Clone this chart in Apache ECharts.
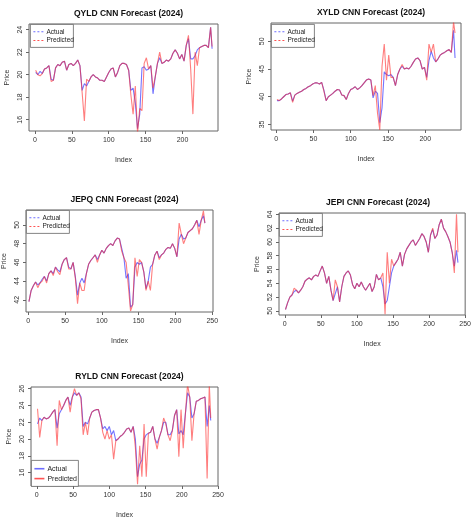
<!DOCTYPE html>
<html><head><meta charset="utf-8">
<script src="https://cdn.jsdelivr.net/npm/echarts@6/dist/echarts.min.js"></script>
<style>html,body{margin:0;background:#fff}#c{width:474px;height:523px}</style>
</head><body><div id="c"></div>
<script>
const idx=[1,4,7,10,13,16,19,22,25,28, 31,34,37,40,43,46,49,52,55,58, 61,64,67,70,73,76,79,82,85,88, 91,94,97,100,103,106,109,112,115,118, 121,124,127,130,133,136,139,142,145,148, 151,154,157,160,163,166,169,172,175,178, 181,184,187,190,193,196,199,202,205,208, 211,214,217,220,223,226,229,232,235,238, 240];
const titles=["QYLD CNN Forecast (2024)","XYLD CNN Forecast (2024)","JEPQ CNN Forecast (2024)","JEPI CNN Forecast (2024)","RYLD CNN Forecast (2024)"];
const qyldA=[20.2,20.0,20.3,20.1,20.5,20.6,20.8,19.6,19.5,20.6, 20.9,20.8,21.1,21.2,20.4,20.9,21.0,20.8,21.0,21.3, 20.8,18.6,19.2,19.0,19.4,19.8,20.0,19.8,19.7,19.5, 19.5,19.4,19.8,20.2,20.5,20.6,19.8,20.2,20.8,21.0, 21.0,20.9,20.4,18.6,18.8,17.5,15.2,16.5,20.6,20.7, 20.4,20.5,20.8,18.3,19.8,21.0,21.5,21.0,21.1,21.3, 21.2,21.4,21.9,22.2,21.9,21.4,21.8,21.2,22.6,23.2, 21.4,21.4,21.7,22.2,22.4,22.5,22.6,22.6,22.4,24.2, 22.3];
const qyldP=[20.4,20.0,19.9,20.1,20.5,20.6,20.8,19.4,19.5,20.6, 20.9,20.8,21.1,21.2,20.4,20.9,21.0,20.8,21.0,21.3, 20.8,18.4,15.9,19.6,19.4,19.8,20.0,19.8,19.7,19.5, 19.5,19.4,19.8,20.2,20.5,20.6,19.8,20.2,20.8,21.0, 21.0,20.9,20.4,18.2,16.5,19.0,14.8,17.0,16.8,21.0, 21.5,20.5,20.8,18.8,19.8,21.0,22.0,21.0,21.1,21.3, 21.2,21.4,21.9,22.2,21.9,21.4,21.8,21.2,22.6,23.5, 20.5,16.5,22.0,20.8,22.4,22.5,22.6,22.6,22.4,24.2, 22.5];
const xyldA=[39.3,39.3,39.6,40.0,40.4,40.5,40.7,39.2,40.3,40.6, 40.8,41.0,41.3,41.5,41.8,42.0,42.3,42.5,42.5,42.3, 42.6,41.2,39.3,40.0,40.3,40.6,41.0,41.3,41.2,40.3, 40.2,39.5,40.6,41.3,41.5,41.8,41.3,41.6,42.0,42.5, 43.0,43.2,43.0,39.8,41.0,40.6,35.3,38.0,44.5,44.0, 43.8,44.0,43.5,42.0,44.0,45.0,45.5,45.0,45.2,45.0, 45.5,46.2,46.8,47.0,46.5,45.0,45.3,43.5,46.5,48.2, 47.0,46.3,46.8,47.5,47.8,48.0,48.3,48.5,48.0,52.0, 47.0];
const xyldP=[39.5,39.3,39.6,40.0,40.4,40.5,40.7,39.0,40.3,40.6, 40.8,41.0,41.3,41.5,41.8,42.0,42.3,42.5,42.5,42.3, 42.6,41.0,39.3,40.0,40.3,40.6,41.0,41.3,41.2,40.3, 40.2,39.5,40.6,41.3,41.5,41.8,41.3,41.6,42.0,42.5, 43.0,43.2,43.0,40.2,42.0,37.0,34.0,45.5,49.5,43.0, 47.5,43.5,43.5,42.0,44.0,45.0,45.8,45.0,45.2,45.0, 45.5,46.2,46.8,47.0,46.5,45.0,45.3,43.0,49.5,48.0, 49.5,46.3,46.8,47.5,47.8,48.0,48.3,48.5,48.0,53.5, 51.5];
const jepqA=[41.8,43.0,43.5,43.9,43.6,43.8,44.2,44.5,44.0,44.8, 45.1,44.8,45.5,45.2,45.0,45.8,46.3,46.5,45.5,45.3, 46.0,44.5,42.5,43.8,44.3,43.8,44.8,45.8,46.2,46.5, 46.8,46.3,46.8,47.3,47.0,47.5,47.8,48.0,47.8,48.3, 48.6,48.5,47.5,46.5,44.3,44.8,41.2,41.5,45.5,46.0, 45.8,46.0,45.0,43.2,44.0,45.5,45.8,46.8,47.2,46.5, 46.8,47.0,47.4,47.6,47.5,48.0,47.5,46.6,48.5,49.0, 48.5,48.6,49.2,49.4,49.6,50.0,50.5,49.8,50.5,51.0, 50.2];
const jepqP=[41.8,43.0,43.5,43.9,43.3,43.8,44.0,44.5,43.8,44.8, 45.1,44.6,45.5,45.0,44.7,45.8,46.3,46.5,45.3,45.3, 46.0,44.3,41.6,43.8,43.0,43.0,44.8,45.8,46.2,46.5, 46.8,46.0,46.8,47.3,47.0,47.5,47.8,48.0,47.8,48.3, 48.6,48.5,47.2,46.5,46.0,43.5,40.8,41.5,46.5,44.5, 46.3,46.0,45.0,43.0,44.0,43.0,45.8,46.8,47.2,46.3, 46.8,47.0,47.4,47.6,47.5,48.0,47.5,46.6,50.2,49.0, 48.0,48.6,49.2,49.4,49.6,50.0,50.5,49.0,50.5,51.5, 50.2];
const jepiA=[50.2,51.2,52.0,52.3,52.8,53.0,52.6,53.0,53.5,54.3, 54.6,54.8,54.5,55.0,55.2,55.0,55.8,56.5,55.5,54.0, 55.0,53.0,51.5,52.5,53.5,51.3,53.5,55.0,55.5,55.8, 55.2,53.8,53.2,54.0,53.5,54.2,53.5,53.0,53.5,54.0, 52.8,53.5,55.3,54.5,54.8,53.5,51.0,51.5,53.5,55.5, 56.5,57.0,57.5,58.5,56.5,58.2,59.0,59.5,60.0,60.3, 59.5,60.0,60.5,61.2,60.8,60.0,58.5,61.0,61.8,60.5, 61.0,62.5,63.3,62.0,61.5,60.8,60.0,58.5,56.5,58.8, 57.0];
const jepiP=[50.2,51.2,52.0,52.3,53.3,53.0,52.6,53.0,53.5,54.3, 54.6,54.8,54.5,55.0,55.2,55.0,55.8,56.5,55.5,54.0, 55.0,53.0,51.5,54.5,53.5,51.3,53.5,55.0,55.5,55.8, 55.2,53.8,53.2,54.0,53.5,54.2,53.5,53.0,53.5,54.0, 52.8,53.5,55.3,54.5,54.8,55.5,49.5,58.5,54.0,57.5, 56.5,57.0,57.5,58.5,56.5,58.2,59.0,59.5,60.0,60.3, 59.5,60.0,60.5,61.2,60.8,60.0,58.5,61.0,62.0,60.5, 61.0,62.5,63.3,62.0,61.5,60.8,60.0,58.5,55.5,64.0, 58.5];
const ryldA=[21.8,22.5,22.2,22.6,22.4,22.5,22.8,23.2,23.5,21.3, 23.0,23.5,24.0,24.6,25.0,24.0,25.0,25.5,25.2,25.5, 25.0,21.5,22.0,21.8,22.5,23.2,23.4,23.5,23.5,22.5, 21.2,21.5,21.0,21.5,20.5,21.0,19.8,20.0,20.3,20.5, 20.8,21.2,21.3,20.8,21.5,20.0,15.5,17.0,17.5,20.0, 20.5,20.7,20.8,21.5,20.0,19.5,20.2,21.0,22.0,22.0, 20.5,20.5,21.0,22.8,23.5,20.6,21.0,20.5,23.0,25.5, 25.0,22.5,23.0,24.5,24.6,24.8,24.9,25.0,21.5,24.0, 22.2];
const ryldP=[23.6,20.2,22.2,22.6,22.4,22.5,22.8,23.2,23.5,19.2, 24.6,23.5,24.0,24.6,25.0,23.2,25.0,26.0,25.2,25.5, 24.8,20.5,22.0,20.5,22.5,23.2,23.4,23.5,23.5,22.5, 20.8,20.0,21.0,20.0,20.5,17.6,19.8,20.0,20.3,20.5, 20.8,21.2,21.3,20.8,21.5,19.0,14.6,19.2,15.5,21.8, 15.5,20.7,20.8,21.5,20.0,18.8,20.2,21.0,22.5,21.8, 20.5,19.8,21.0,22.8,23.5,17.9,23.5,18.9,23.0,26.5, 25.0,19.8,23.0,24.5,24.6,24.8,24.9,25.0,15.3,26.5, 22.5];
const actual=[qyldA,xyldA,jepqA,jepiA,ryldA], predicted=[qyldP,xyldP,jepqP,jepiP,ryldP];
const yTicks=[[16,18,20,22,24],[35,40,45,50],[42,44,46,48,50],[50,52,54,56,58,60,62,64],[16,18,20,22,24,26]];
const xTicks=[[0,50,100,150,200],[0,50,100,150,200],[0,50,100,150,200,250],[0,50,100,150,200,250],[0,50,100,150,200,250]];

const grids=[[29,24,189,107],[271,23,190,107],[26,210,187,102],[279,213,188,102],[31,387,187,99]];
const xr=[[-8,248],[-7,248],[-3,251],[-8,250],[-8,250]];
const yr=[[15.0,24.5],[34,53.3],[40.7,51.6],[49.4,64.2],[14.4,26.2]];
const legY=[[30,24],[271,24],[26,210],[279,213],[31,460]];

const opt={animation:false,title:[],grid:[],xAxis:[],yAxis:[],series:[],graphic:[]};
const font='Liberation Sans, Arial, sans-serif';
for(let i=0;i<5;i++){
  const g=grids[i];
  opt.grid.push({left:g[0],top:g[1],width:g[2],height:g[3],show:true,borderColor:'#666',borderWidth:1,backgroundColor:'transparent'});
  opt.title.push({text:titles[i],left:g[0]+g[2]/2,top:g[1]-20,textAlign:'center',textStyle:{fontSize:8.5,fontWeight:'bold',fontFamily:font,color:'#111'}});
  opt.xAxis.push({type:'value',gridIndex:i,position:'bottom',min:xr[i][0],max:xr[i][1],name:'Index',nameLocation:'middle',nameGap:26,nameTextStyle:{fontSize:7,fontFamily:font,color:'#333'},
    axisLine:{show:false,onZero:false},splitLine:{show:false},
    axisTick:{show:true,inside:false,length:3,customValues:xTicks[i],lineStyle:{color:'#666'}},
    axisLabel:{customValues:xTicks[i],fontSize:7,fontFamily:font,color:'#333',margin:6}});
  opt.yAxis.push({type:'value',gridIndex:i,position:'left',min:yr[i][0],max:yr[i][1],name:'Price',nameLocation:'middle',nameGap:18,nameTextStyle:{fontSize:7,fontFamily:font,color:'#333'},
    axisLine:{show:false,onZero:false},splitLine:{show:false},
    axisTick:{show:true,inside:false,length:3,customValues:yTicks[i],lineStyle:{color:'#666'}},
    axisLabel:{customValues:yTicks[i],rotate:90,fontSize:7,fontFamily:font,color:'#333',margin:5}});
  opt.series.push({type:'line',xAxisIndex:i,yAxisIndex:i,showSymbol:false,data:idx.map((x,k)=>[x,actual[i][k]]),lineStyle:{color:'rgba(70,70,255,0.75)',width:1.1}});
  opt.series.push({type:'line',xAxisIndex:i,yAxisIndex:i,showSymbol:false,data:idx.map((x,k)=>[x,predicted[i][k]]),lineStyle:{color:'rgba(255,40,40,0.6)',width:1.1}});
  const [lx,ly]=legY[i]; const solid=i===4;
  const w=solid?47:43,h=solid?26:23;
  opt.graphic.push({type:'group',left:lx,top:ly,z:100,children:[
    {type:'rect',shape:{x:0,y:0,width:w,height:h},style:{fill:'#fff',stroke:'#666',lineWidth:0.8}},
    {type:'line',shape:{x1:3,y1:h*0.32,x2:13,y2:h*0.32},style:{stroke:'rgba(70,70,255,0.8)',lineWidth:solid?1.6:1,lineDash:solid?null:[2,2]}},
    {type:'line',shape:{x1:3,y1:h*0.7,x2:13,y2:h*0.7},style:{stroke:'rgba(255,40,40,0.8)',lineWidth:solid?1.6:1,lineDash:solid?null:[2,2]}},
    {type:'text',x:16,y:h*0.32,style:{text:'Actual',fontSize:solid?7:6.5,fontFamily:font,fill:'#222',verticalAlign:'middle'}},
    {type:'text',x:16,y:h*0.7,style:{text:'Predicted',fontSize:solid?7:6.5,fontFamily:font,fill:'#222',verticalAlign:'middle'}}
  ]});
}
echarts.init(document.getElementById('c'),null,{renderer:'canvas'}).setOption(opt);
</script></body></html>
